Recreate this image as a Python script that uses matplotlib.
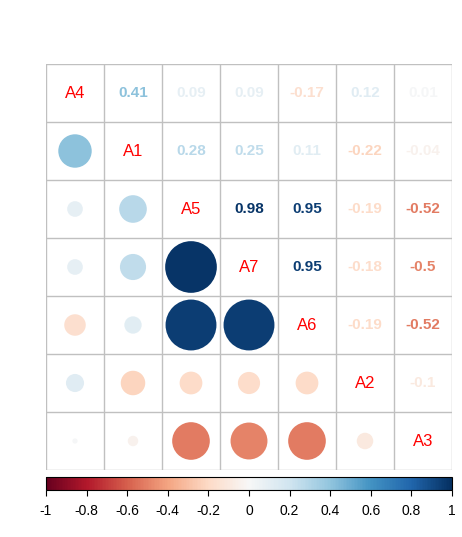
import numpy as np
import matplotlib.pyplot as plt
from matplotlib.patches import Circle
from matplotlib.colors import Normalize
from matplotlib.colorbar import ColorbarBase

plt.rcParams['font.family'] = ['Liberation Sans', 'DejaVu Sans']

# Variable order and correlation values (upper triangle, row by row)
labels = ['A4', 'A1', 'A5', 'A7', 'A6', 'A2', 'A3']
upper = [
    [0.41, 0.09, 0.09, -0.17, 0.12, 0.01],
    [0.28, 0.25, 0.11, -0.22, -0.04],
    [0.98, 0.95, -0.19, -0.52],
    [0.95, -0.18, -0.50],
    [-0.19, -0.52],
    [-0.10],
]

n = len(labels)
corr = np.eye(n)
for i, row in enumerate(upper):
    for k, v in enumerate(row):
        j = i + 1 + k
        corr[i, j] = v
        corr[j, i] = v

W, H = 462, 537
fig = plt.figure(figsize=(W / 100, H / 100), dpi=100)
ax = fig.add_axes([46 / W, (H - 470) / H, 406 / W, 406 / H])
cmap = plt.get_cmap('RdBu')
norm = Normalize(-1, 1)

ax.set_xlim(0, n)
ax.set_ylim(n, 0)
for t in range(n + 1):
    ax.plot([t, t], [0, n], color='#c0c0c0', lw=1, zorder=1)
    ax.plot([0, n], [t, t], color='#c0c0c0', lw=1, zorder=1)

for i in range(n):
    for j in range(n):
        cx, cy = j + 0.5, i + 0.5
        r = corr[i, j]
        if i == j:
            ax.text(cx, cy, labels[i], color='red', fontsize=12,
                    ha='center', va='center')
        elif j > i:
            lab = ('%.2f' % r).rstrip('0').rstrip('.')
            ax.text(cx, cy, lab, color=cmap(norm(r)), fontsize=11,
                    fontweight='bold', ha='center', va='center')
        else:
            rad = 0.45 * np.sqrt(abs(r))
            ax.add_patch(Circle((cx, cy), rad, facecolor=cmap(norm(r)),
                                edgecolor='none', zorder=2))
ax.axis('off')

cax = fig.add_axes([46 / W, (H - 490) / H, 406 / W, 13 / H])
cb = ColorbarBase(cax, cmap=cmap, norm=norm, orientation='horizontal',
                  ticks=np.round(np.arange(-1, 1.01, 0.2), 1))
cb.set_ticklabels(['-1', '-0.8', '-0.6', '-0.4', '-0.2', '0',
                   '0.2', '0.4', '0.6', '0.8', '1'])
cb.outline.set_linewidth(0.8)
cax.tick_params(labelsize=10, length=4, width=0.8, pad=6)

fig.savefig('out.png', dpi=100)
